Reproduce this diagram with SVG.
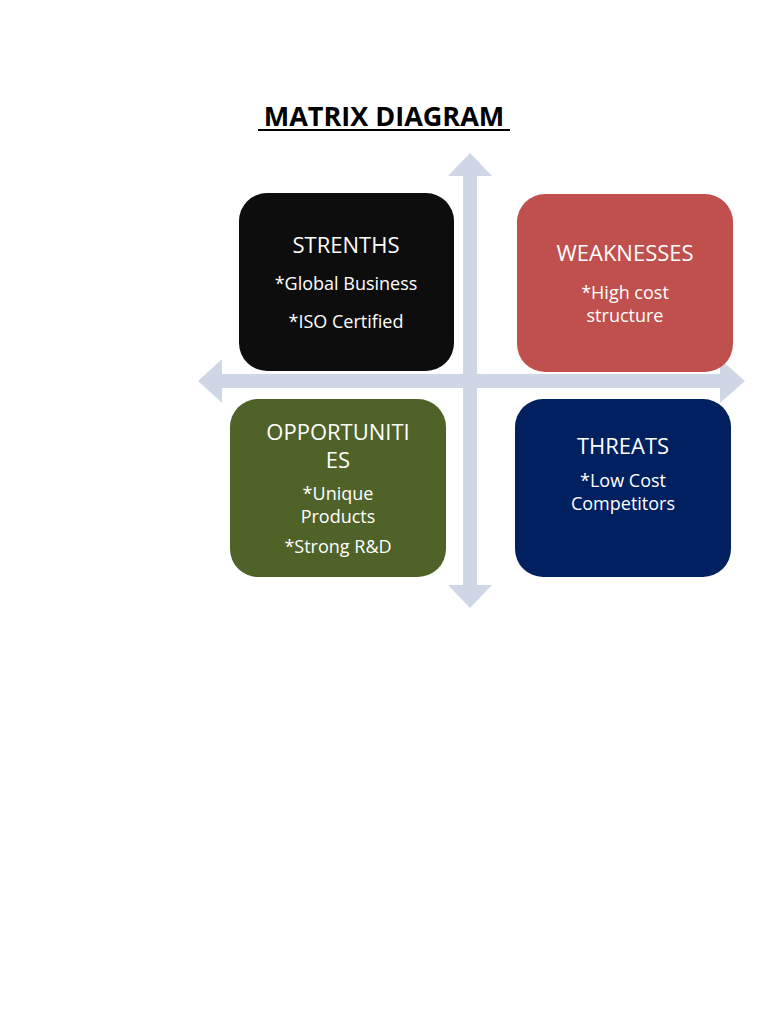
<svg xmlns="http://www.w3.org/2000/svg" width="768" height="1024" viewBox="0 0 768 1024">
<style>
.t{font-family:"Open Sans","Liberation Sans",sans-serif;fill:#fff;text-anchor:middle}
.h{font-size:22px}.b{font-size:18px}
</style>
<rect width="768" height="1024" fill="#fff"/>
<text x="384" y="126" font-family="'Open Sans','Liberation Sans',sans-serif" font-weight="bold" font-size="27" text-anchor="middle" fill="#000">MATRIX DIAGRAM</text>
<line x1="258" y1="130" x2="510" y2="130" stroke="#000" stroke-width="2"/>
<g id="connectors" fill="#cfd7e7">
<polygon points="470,153 492,176 477,176 477,585 492,585 470,608 448,585 463,585 463,176 448,176"/>
<polygon points="198,381 222,359 222,374 720,374 720,359 745,381 720,403 720,388 222,388 222,403"/>
</g>
<g id="strengths"><rect x="239" y="193" width="215" height="178" rx="28" fill="#0d0d0d"/>
<text class="t h" x="346" y="253">STRENTHS</text>
<text class="t b" x="346" y="290">*Global Business</text>
<text class="t b" x="346" y="328">*ISO Certified</text></g>
<g id="weaknesses"><rect x="517" y="194" width="216" height="178" rx="28" fill="#c0504d"/>
<text class="t h" x="625" y="261">WEAKNESSES</text>
<text class="t b" x="625" y="299">*High cost</text>
<text class="t b" x="625" y="322">structure</text></g>
<g id="opportunities"><rect x="230" y="399" width="216" height="178" rx="28" fill="#4f6228"/>
<text class="t h" x="338" y="440">OPPORTUNITI</text>
<text class="t h" x="338" y="468">ES</text>
<text class="t b" x="338" y="500">*Unique</text>
<text class="t b" x="338" y="523">Products</text>
<text class="t b" x="338" y="553">*Strong R&amp;D</text></g>
<g id="threats"><rect x="515" y="399" width="216" height="178" rx="28" fill="#002060"/>
<text class="t h" x="623" y="454">THREATS</text>
<text class="t b" x="623" y="487">*Low Cost</text>
<text class="t b" x="623" y="510">Competitors</text></g>
</svg>
